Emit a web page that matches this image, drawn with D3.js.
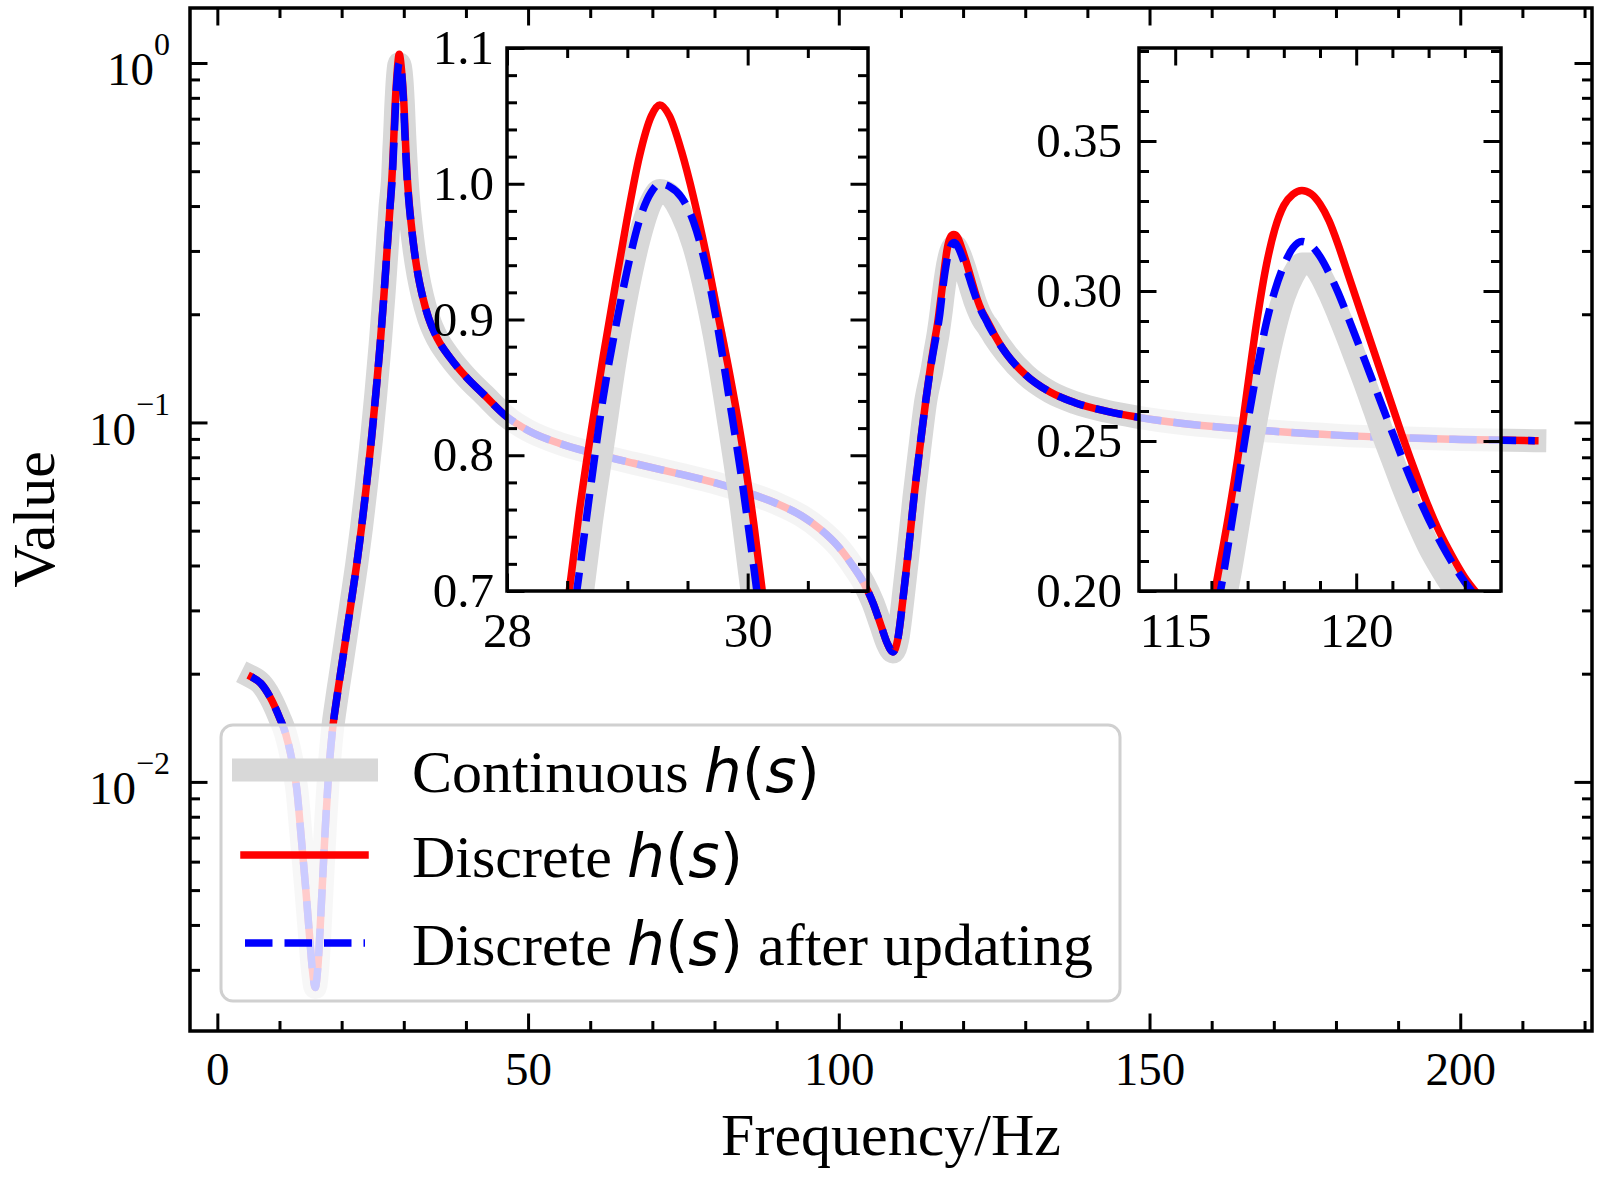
<!DOCTYPE html>
<html>
<head>
<meta charset="utf-8">
<script src="https://cdn.jsdelivr.net/npm/d3@7/dist/d3.min.js"></script>
<style>
html,body{margin:0;padding:0;background:#fff;}
svg{display:block;}
</style>
</head>
<body>
<svg id="chart" width="1600" height="1177"></svg>
<script>
// ---------------- data ----------------
// low-frequency branch (all three curves coincide)
const freqLow  = [5.5, 7, 8.5, 10, 11, 12, 12.8, 13.5, 14.2, 14.8, 15.3, 15.75, 16.2, 16.8, 17.4, 17.9,
                  18.5, 19.2, 20, 20.8, 21.6, 22.4, 23.2, 24, 24.8, 25.5, 26.2, 26.8, 27.3, 27.8];
const valueLow = [0.0196, 0.0188, 0.0172, 0.0151, 0.0136, 0.0115, 0.0095, 0.0070, 0.0051, 0.0038, 0.0030, 0.00268,
                  0.0031, 0.0048, 0.0076, 0.0105, 0.0138, 0.0170, 0.0210, 0.0260, 0.0322, 0.0400, 0.0510, 0.0670,
                  0.0900, 0.1200, 0.1650, 0.2250, 0.3000, 0.4000];

// first resonance peak
const freqPeak1       = [28.2, 28.4, 28.5, 28.6, 28.7, 28.8, 28.9, 29.0, 29.1, 29.2, 29.27, 29.35, 29.45,
                         29.55, 29.65, 29.75, 29.85, 29.95, 30.05, 30.15, 30.3, 30.5, 30.8, 31.2, 31.7];
const continuousPeak1 = [0.480, 0.575, 0.620, 0.680, 0.750, 0.810, 0.870, 0.920, 0.960, 0.987, 0.995, 0.992, 0.978,
                         0.955, 0.920, 0.875, 0.820, 0.760, 0.690, 0.630, 0.560, 0.485, 0.412, 0.352, 0.299];
const discretePeak1   = [0.520, 0.625, 0.688, 0.758, 0.818, 0.873, 0.925, 0.975, 1.020, 1.050, 1.058, 1.050, 1.024,
                         0.990, 0.950, 0.905, 0.860, 0.810, 0.750, 0.680, 0.590, 0.500, 0.422, 0.356, 0.300];
const updatedPeak1    = [0.500, 0.595, 0.650, 0.713, 0.780, 0.843, 0.893, 0.937, 0.973, 0.994, 1.000, 0.998, 0.990,
                         0.972, 0.940, 0.895, 0.840, 0.783, 0.718, 0.650, 0.570, 0.490, 0.416, 0.354, 0.300];

// middle branch with the second anti-resonance
const freqMid  = [32.3, 33, 34, 35.5, 37.5, 40, 43, 46.5, 50, 55, 60, 67, 74.5, 80, 85, 90, 94, 97,
                  100, 102, 104, 105.5, 106.8, 107.8, 108.7, 109.5, 110.3, 111.2, 112.1, 113, 114];
const valueMid = [0.257, 0.225, 0.195, 0.170, 0.151, 0.134, 0.119, 0.104, 0.095, 0.0875, 0.0825,
                  0.0770, 0.0718, 0.0680, 0.0640, 0.0595, 0.0550, 0.0505, 0.0450, 0.0405, 0.0358, 0.0315, 0.0272,
                  0.0243, 0.0230, 0.0250, 0.0320, 0.0440, 0.0620, 0.0840, 0.1150];

// second resonance peak
const freqPeak2       = [115, 115.5, 116, 116.25, 116.5, 116.75, 117, 117.25, 117.5, 117.75, 118, 118.25, 118.5,
                         118.75, 119, 119.25, 119.5, 119.75, 120, 120.25, 120.5, 120.75, 121, 121.25, 121.5,
                         121.75, 122, 122.25, 122.5, 122.75, 123, 123.25, 123.5, 124, 125];
const continuousPeak2 = [0.140, 0.158, 0.177, 0.190, 0.205, 0.223, 0.241, 0.258, 0.274, 0.2875, 0.2980, 0.3050, 0.3090,
                         0.3090, 0.3055, 0.2995, 0.2925, 0.2850, 0.2770, 0.2690, 0.2605, 0.2520, 0.2440, 0.2360, 0.2285,
                         0.2215, 0.2150, 0.2095, 0.2045, 0.2000, 0.1960, 0.1925, 0.1895, 0.1845, 0.1730];
const discretePeak2   = [0.152, 0.172, 0.194, 0.210, 0.227, 0.246, 0.268, 0.2895, 0.3075, 0.3205, 0.3285, 0.3322, 0.3335,
                         0.3324, 0.3290, 0.3234, 0.3155, 0.3065, 0.2975, 0.2885, 0.2795, 0.2705, 0.2615, 0.2525, 0.2440,
                         0.2358, 0.2280, 0.2210, 0.2150, 0.2095, 0.2045, 0.2005, 0.1970, 0.1900, 0.1760];
const updatedPeak2    = [0.150, 0.168, 0.187, 0.200, 0.218, 0.237, 0.256, 0.2730, 0.2885, 0.3000, 0.3085, 0.3143, 0.3165,
                         0.3152, 0.3115, 0.3060, 0.2995, 0.2920, 0.2843, 0.2765, 0.2686, 0.2607, 0.2528, 0.2450, 0.2375,
                         0.2305, 0.2240, 0.2180, 0.2125, 0.2075, 0.2030, 0.1990, 0.1955, 0.1880, 0.1750];

// high-frequency tail
const freqHigh  = [127, 130, 134, 138, 143, 148, 155, 162, 170, 180, 190, 200, 212];
const valueHigh = [0.155, 0.136, 0.1215, 0.1135, 0.1075, 0.1035, 0.0995, 0.0968, 0.0945, 0.0922, 0.0907, 0.0897, 0.0890];

// ticks and labels
const mainXTicks   = [0, 50, 100, 150, 200];
const mainYTicks   = [1, 0.1, 0.01];
const mainYExps    = ["0", "\u22121", "\u22122"];
const inset1XTicks = [28, 30];
const inset1YTicks = [0.7, 0.8, 0.9, 1.0, 1.1];
const inset2XTicks = [115, 120];
const inset2YTicks = [0.20, 0.25, 0.30, 0.35];
const legendNames  = ["Continuous", "Discrete", "Discrete"];
const legendTails  = ["", "", " after updating"];
const xTitle = "Frequency/Hz";
const yTitle = "Value";

// ---------------- assembled series ----------------
const freq        = [...freqLow, ...freqPeak1, ...freqMid, ...freqPeak2, ...freqHigh];
const continuousH = [...valueLow, ...continuousPeak1, ...valueMid, ...continuousPeak2, ...valueHigh];
const discreteH   = [...valueLow, ...discretePeak1,   ...valueMid, ...discretePeak2,   ...valueHigh];
const updatedH    = [...valueLow, ...updatedPeak1,    ...valueMid, ...updatedPeak2,    ...valueHigh];

const series = [
  {values: continuousH, color: "#d8d8d8", width: 23,  dash: null,      cap: "square", legX: [232, 378], legCap: "butt"},
  {values: discreteH,   color: "#ff0000", width: 7.5, dash: null,      cap: "square", legX: [244, 365], legCap: "square"},
  {values: updatedH,    color: "#0000ff", width: 7.5, dash: "27.5 12", cap: "butt",   legX: [245, 365], legCap: "butt"}
];

// ---------------- drawing ----------------
const SERIF = '"Liberation Serif","Times New Roman",serif';
const SANS  = '"DejaVu Sans",sans-serif';
const MAJOR = 17.5, MINOR = 10;
const svg = d3.select("#chart");
const defs = svg.append("defs");

const mainBox   = {left: 190,  right: 1592, top: 8,  bottom: 1031};
const inset1Box = {left: 507,  right: 868,  top: 48, bottom: 591};
const inset2Box = {left: 1139, right: 1501, top: 48, bottom: 591};

function clip(id, b) {
  defs.append("clipPath").attr("id", id).append("rect")
    .attr("x", b.left).attr("y", b.top).attr("width", b.right - b.left).attr("height", b.bottom - b.top);
}
clip("clipMain", mainBox); clip("clipIn1", inset1Box); clip("clipIn2", inset2Box);

function drawLines(g, xs, ys, clipId) {
  const line = d3.line().x(d => xs(d[0])).y(d => ys(d[1])).curve(d3.curveMonotoneX);
  const lg = g.append("g").attr("clip-path", `url(#${clipId})`);
  series.forEach(s => {
    lg.append("path").datum(freq.map((f, i) => [f, s.values[i]]))
      .attr("d", line).attr("fill", "none")
      .attr("stroke", s.color).attr("stroke-width", s.width)
      .attr("stroke-linecap", s.cap).attr("stroke-linejoin", "round")
      .attr("stroke-dasharray", s.dash);
  });
}

function drawAxes(g, xs, ys, b, o) {
  const styleAxis = sel => {
    sel.select(".domain").remove();
    sel.attr("font-family", SERIF).attr("font-size", o.font);
    sel.selectAll(".tick line").attr("stroke", "#000").attr("stroke-width", 3);
    sel.selectAll(".tick text").attr("fill", "#000");
  };
  const add = (axis, tx, ty) => g.append("g").attr("transform", `translate(${tx},${ty})`).call(axis).call(styleAxis);
  add(d3.axisBottom(xs).tickValues(o.xMinor).tickSize(-MINOR).tickFormat(""), 0, b.bottom);
  add(d3.axisTop(xs).tickValues(o.xMinor).tickSize(-MINOR).tickFormat(""), 0, b.top);
  add(d3.axisTop(xs).tickValues(o.xMajor).tickSize(-MAJOR).tickFormat(""), 0, b.top);
  const xa = add(d3.axisBottom(xs).tickValues(o.xMajor).tickSize(-MAJOR).tickPadding(o.xPad).tickFormat(o.xFormat), 0, b.bottom);
  add(d3.axisLeft(ys).tickValues(o.yMinor).tickSize(-MINOR).tickFormat(""), b.left, 0);
  add(d3.axisRight(ys).tickValues(o.yMinor).tickSize(-MINOR).tickFormat(""), b.right, 0);
  add(d3.axisRight(ys).tickValues(o.yMajor).tickSize(-MAJOR).tickFormat(""), b.right, 0);
  const ya = add(d3.axisLeft(ys).tickValues(o.yMajor).tickSize(-MAJOR).tickPadding(o.yPad).tickFormat(o.yFormat), b.left, 0);
  g.append("rect").attr("x", b.left).attr("y", b.top)
    .attr("width", b.right - b.left).attr("height", b.bottom - b.top)
    .attr("fill", "none").attr("stroke", "#000").attr("stroke-width", 3.5);
  return {xa, ya};
}

// ---- main axes ----
const x = d3.scaleLinear().domain([-4.4, 221.2]).range([mainBox.left, mainBox.right]);
const y = d3.scaleLog().domain([Math.pow(10, -2.693), Math.pow(10, 0.153)]).range([mainBox.bottom, mainBox.top]);
const gMain = svg.append("g");
drawLines(gMain, x, y, "clipMain");

const mainXMinor = d3.range(10, 221, 10).filter(v => v % 50 !== 0);
const mainYMinor = [];
[-3, -2, -1, 0].forEach(e => { for (let k = 2; k <= 9; k++) { const v = k * Math.pow(10, e); if (v >= y.domain()[0] && v <= y.domain()[1]) mainYMinor.push(v); } });
const mainAx = drawAxes(gMain, x, y, mainBox, {
  xMajor: mainXTicks, xMinor: mainXMinor, yMajor: mainYTicks, yMinor: mainYMinor,
  xPad: 21, yPad: 20, font: 47, xFormat: d3.format("d"), yFormat: () => ""
});
mainAx.ya.selectAll(".tick text").each(function(d) {
  const t = d3.select(this);
  const idx = mainYTicks.indexOf(d);
  t.text(null).attr("dy", null).attr("y", 22).attr("x", -20);
  t.append("tspan").text("10");
  t.append("tspan").attr("dy", -30).attr("font-size", 32).text(mainYExps[idx]);
});

// axis titles
svg.append("text").attr("x", (mainBox.left + mainBox.right) / 2).attr("y", 1155)
  .attr("text-anchor", "middle").attr("font-family", SERIF).attr("font-size", 60).text(xTitle);
svg.append("text").attr("transform", `translate(54,${(mainBox.top + mainBox.bottom) / 2}) rotate(-90)`)
  .attr("text-anchor", "middle").attr("font-family", SERIF).attr("font-size", 60).text(yTitle);

// ---- insets ----
function drawInset(b, xDom, yDom, clipId, o) {
  const g = svg.append("g");
  g.append("rect").attr("x", b.left).attr("y", b.top).attr("width", b.right - b.left).attr("height", b.bottom - b.top)
    .attr("fill", "#fff").attr("fill-opacity", 0.72);
  const xs = d3.scaleLinear().domain(xDom).range([b.left, b.right]);
  const ys = d3.scaleLinear().domain(yDom).range([b.bottom, b.top]);
  drawLines(g, xs, ys, clipId);
  drawAxes(g, xs, ys, b, o);
}

drawInset(inset1Box, [28, 31], [0.7, 1.1], "clipIn1", {
  xMajor: inset1XTicks,
  xMinor: d3.range(28.5, 31, 0.5).filter(v => !inset1XTicks.some(t => Math.abs(t - v) < 1e-6)),
  yMajor: inset1YTicks,
  yMinor: d3.range(0.72, 1.1, 0.02).filter(v => !inset1YTicks.some(t => Math.abs(t - v) < 1e-6)),
  xPad: 21, yPad: 13, font: 49, xFormat: d3.format("d"), yFormat: d3.format(".1f")
});
drawInset(inset2Box, [114, 124], [0.2, 0.381], "clipIn2", {
  xMajor: inset2XTicks,
  xMinor: d3.range(116, 124, 1).filter(v => !inset2XTicks.includes(v)),
  yMajor: inset2YTicks,
  yMinor: d3.range(0.21, 0.3805, 0.01).filter(v => !inset2YTicks.some(t => Math.abs(t - v) < 1e-6)),
  xPad: 21, yPad: 17, font: 49, xFormat: d3.format("d"), yFormat: d3.format(".2f")
});

// ---- legend ----
const lg = svg.append("g");
lg.append("rect").attr("x", 221).attr("y", 725).attr("width", 899).attr("height", 276).attr("rx", 12)
  .attr("fill", "#fff").attr("fill-opacity", 0.8).attr("stroke", "#d0d0d0").attr("stroke-width", 3);
const rowY = [770, 855, 943];
series.forEach((s, i) => {
  lg.append("line").attr("x1", s.legX[0]).attr("x2", s.legX[1])
    .attr("y1", rowY[i]).attr("y2", rowY[i])
    .attr("stroke", s.color).attr("stroke-width", s.width)
    .attr("stroke-linecap", s.legCap).attr("stroke-dasharray", s.dash);
  const t = lg.append("text").attr("x", 412).attr("y", rowY[i] + 22)
    .attr("font-family", SERIF).attr("font-size", 60).attr("fill", "#000");
  t.append("tspan").text(legendNames[i] + " ");
  t.append("tspan").attr("font-family", SANS).attr("font-style", "italic").text("h");
  t.append("tspan").attr("font-family", SANS).text("(");
  t.append("tspan").attr("font-family", SANS).attr("font-style", "italic").text("s");
  t.append("tspan").attr("font-family", SANS).text(")");
  if (legendTails[i]) t.append("tspan").text(legendTails[i]);
});
</script>
</body>
</html>
